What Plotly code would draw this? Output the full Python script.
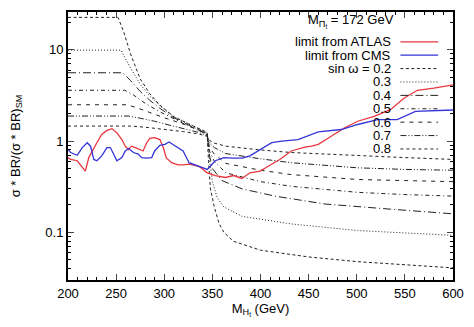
import plotly.graph_objects as go

# ---------------- data ----------------
atlas_m = [200, 202.7, 209.6, 214.8, 218, 221.6, 225, 230, 235, 240.5, 245.7, 250.8, 256, 259.5,
           263, 266, 270, 275, 278, 281.8, 285, 290, 295.5, 299, 302, 307.5, 314.4, 319.6, 325.8,
           336, 344.7, 353, 363.6, 372, 380.7, 389, 399.7, 408, 420, 432, 446, 453, 460, 473.5,
           487, 501, 518, 535, 549, 563, 580, 600]
atlas_v = [0.66, 0.63, 0.61, 0.51, 0.47, 0.66, 0.78, 0.96, 1.18, 1.31, 1.37, 1.23, 1.04, 0.88,
           0.81, 0.88, 0.85, 0.81, 0.78, 0.96, 1.07, 1.09, 1.04, 0.85, 0.66, 0.58, 0.55, 0.55, 0.56,
           0.53, 0.45, 0.42, 0.40, 0.42, 0.39, 0.45, 0.47, 0.53, 0.63, 0.78, 0.86, 0.88, 0.92, 1.13,
           1.39, 1.65, 1.87, 2.21, 2.95, 3.6, 3.8, 4.13]

cms_m = [200, 202.7, 209.6, 214.8, 220, 223.4, 226.8, 230, 235, 240.5, 244, 247, 250.8, 256,
         259.5, 263, 268, 273, 276.6, 281.8, 287, 290, 295.5, 300.7, 305, 309, 314, 319.6, 325.8,
         336, 344.7, 353, 362, 371, 381, 389, 398, 411.7, 422, 439, 460, 484, 501, 521.6, 542,
         561, 600]
cms_v = [0.81, 0.75, 0.70, 0.85, 0.96, 0.88, 0.63, 0.61, 0.69, 0.85, 0.85, 0.72, 0.61, 0.66,
         0.78, 0.83, 0.75, 0.72, 0.66, 0.65, 0.66, 0.78, 0.90, 0.92, 0.98, 0.92, 0.85, 0.78, 0.58,
         0.53, 0.49, 0.61, 0.66, 0.65, 0.65, 0.69, 0.78, 0.96, 1.0, 1.04, 1.26, 1.34, 1.52, 1.72, 1.72,
         2.12, 2.19]

sin_labels = ["0.2", "0.3", "0.4", "0.5", "0.6", "0.7", "0.8"]

s02_m = [200, 252, 258, 265, 275, 285, 295, 310, 325, 338, 344.5, 346, 348, 352, 357, 362, 372, 400, 450, 500, 550, 600]
s02_v = [22.6, 22.6, 15.5, 9.0, 4.8, 3.3, 2.5, 1.85, 1.55, 1.35, 1.25, 0.6, 0.3, 0.19, 0.125, 0.1, 0.08, 0.064, 0.054, 0.048, 0.044, 0.041]

s03_m = [200, 255, 265, 275, 285, 295, 310, 325, 338, 344.5, 346.5, 350, 355, 362, 381, 432, 501, 550, 600]
s03_v = [9.9, 9.9, 6.3, 4.2, 3.1, 2.45, 1.85, 1.55, 1.33, 1.23, 0.7, 0.36, 0.24, 0.19, 0.15, 0.124, 0.105, 0.098, 0.093]

s04_m = [200, 257, 265, 275, 285, 295, 310, 325, 338, 344.5, 347, 350, 360, 381, 415, 467, 535, 600]
s04_v = [5.6, 5.6, 4.6, 3.5, 2.8, 2.3, 1.8, 1.5, 1.3, 1.2, 0.7, 0.5, 0.37, 0.30, 0.25, 0.205, 0.18, 0.16]

s05_m = [200, 259, 268, 280, 295, 310, 325, 338, 344.5, 347, 352, 364, 400, 432, 501, 550, 600]
s05_v = [3.6, 3.6, 3.2, 2.6, 2.1, 1.75, 1.47, 1.28, 1.18, 0.78, 0.6, 0.45, 0.36, 0.32, 0.275, 0.26, 0.25]

s06_m = [200, 261, 270, 285, 300, 315, 330, 340, 344.5, 347, 352, 364, 400, 432, 501, 550, 600]
s06_v = [2.5, 2.5, 2.35, 2.05, 1.8, 1.6, 1.4, 1.25, 1.17, 0.85, 0.72, 0.57, 0.48, 0.43, 0.38, 0.37, 0.36]

s07_m = [200, 263, 275, 290, 305, 320, 335, 344.5, 347, 352, 364, 400, 432, 501, 550, 600]
s07_v = [1.88, 1.88, 1.78, 1.65, 1.5, 1.38, 1.25, 1.15, 0.95, 0.85, 0.73, 0.64, 0.58, 0.51, 0.49, 0.48]

s08_m = [200, 265, 280, 300, 320, 335, 344.5, 347, 352, 364, 400, 432, 501, 550, 600]
s08_v = [1.46, 1.46, 1.42, 1.35, 1.27, 1.2, 1.13, 1.02, 0.95, 0.88, 0.80, 0.75, 0.69, 0.66, 0.63]

x_ticks = [200, 250, 300, 350, 400, 450, 500, 550, 600]
y_ticks = [0.1, 1, 10]
y_ticktext = ["0.1", "1", "10"]

# ---------------- styles ----------------
FONT = "Liberation Sans, Arial, sans-serif"
BLACK = "#222222"
RED = "#e8373f"
BLUE = "#3434d8"
dashes = ["3px,2.5px", "1px,2px", "8px,3px,1px,3px", "4px,3px,1px,3px",
          "4px,5px", "6px,2px,1px,2px,1px,2px", "3px,3px"]

sin_series = [(s02_m, s02_v), (s03_m, s03_v), (s04_m, s04_v), (s05_m, s05_v),
              (s06_m, s06_v), (s07_m, s07_v), (s08_m, s08_v)]

fig = go.Figure()
for (m, v), lab, d in zip(sin_series, sin_labels, dashes):
    fig.add_trace(go.Scatter(x=m, y=v, mode="lines", name="sin ω = " + lab,
                             line=dict(color=BLACK, width=1, dash=d), showlegend=False))
fig.add_trace(go.Scatter(x=atlas_m, y=atlas_v, mode="lines", name="limit from ATLAS",
                         line=dict(color=RED, width=1.3), showlegend=False))
fig.add_trace(go.Scatter(x=cms_m, y=cms_v, mode="lines", name="limit from CMS",
                         line=dict(color=BLUE, width=1.3), showlegend=False))

# ---------------- manual legend (gnuplot style) ----------------
L, R, T, B = 68, 18, 10, 47
W, H = 474, 327
pw, ph = W - L - R, H - T - B

def px(x):
    return (x - L) / pw

def py(y):
    return (H - B - y) / ph

annotations = []
shapes = []
annotations.append(dict(x=px(353), y=py(19), xref="paper", yref="paper",
                        text="M<sub>Π<sub>t</sub></sub> = 172 GeV", showarrow=False,
                        xanchor="center", yanchor="middle", font=dict(size=13, color="black", family=FONT)))
leg_texts = ["limit from ATLAS", "limit from CMS", "sin ω = 0.2", "0.3", "0.4", "0.5", "0.6", "0.7", "0.8"]
leg_y = [40, 53.5, 67, 80.5, 94, 107.5, 121, 134.5, 148]
leg_styles = [(RED, None, 1.3), (BLUE, None, 1.3)] + [(BLACK, d, 1) for d in dashes]
for t, yy, (c, d, w) in zip(leg_texts, leg_y, leg_styles):
    annotations.append(dict(x=px(396), y=py(yy), xref="paper", yref="paper", text=t,
                            showarrow=False, xanchor="right", yanchor="middle",
                            font=dict(size=13, color="black", family=FONT)))
    ln = dict(color=c, width=w)
    if d:
        ln["dash"] = d
    shapes.append(dict(type="line", xref="paper", yref="paper", x0=px(403), x1=px(441),
                       y0=py(yy), y1=py(yy), line=ln))

fig.update_layout(
    width=W, height=H,
    margin=dict(l=L, r=R, t=T, b=B),
    paper_bgcolor="white", plot_bgcolor="white",
    font=dict(family=FONT, size=13, color="black"),
    annotations=annotations, shapes=shapes,
    showlegend=False,
)
fig.update_xaxes(range=[200, 600], tickvals=x_ticks, ticks="inside", ticklen=6, tickwidth=1,
                 minor=dict(ticks="inside", ticklen=3, dtick=10, tickcolor="black"),
                 showline=True, linewidth=2, linecolor="black", mirror="allticks",
                 showgrid=False, zeroline=False, tickfont=dict(size=13),
                 title=dict(text="M<sub>H<sub>t</sub></sub> (GeV)", font=dict(size=13), standoff=4))
fig.update_yaxes(type="log", range=[-1.52, 1.413], tickvals=y_ticks, ticktext=y_ticktext,
                 ticks="inside", ticklen=6, tickwidth=1,
                 minor=dict(ticks="inside", ticklen=3, dtick="D1", tickcolor="black"),
                 showline=True, linewidth=2, linecolor="black", mirror="allticks",
                 showgrid=False, zeroline=False, tickfont=dict(size=13),
                 title=dict(text="σ * BR/(σ * BR)<sub>SM</sub>", font=dict(size=13), standoff=22))

fig.write_html("out.html")
